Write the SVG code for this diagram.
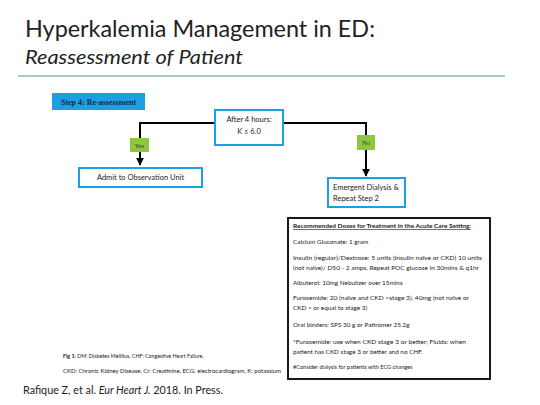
<svg xmlns="http://www.w3.org/2000/svg" width="540" height="405" viewBox="0 0 540 405">
<defs>
<marker id="arr" viewBox="0 0 10 10" refX="9" refY="5" markerWidth="4" markerHeight="4" orient="auto" markerUnits="strokeWidth">
<path d="M0,0 L10,5 L0,10 z" fill="#000"/>
</marker>
<style>
.sans{font-family:Lato,"Open Sans","Liberation Sans",sans-serif;fill:#222}
.serif{font-family:"Liberation Serif","DejaVu Serif",serif}
.box{fill:#fff;stroke:#1ba1e2;stroke-width:2}
.lbl{fill:#8dc63f}
.conn{fill:none;stroke:#000;stroke-width:2}
.t7{font-size:7.5px}
.t6{font-size:6.4px}
.t5{font-size:5.3px}
</style>
</defs>
<rect width="540" height="405" fill="#fff"/>
<g id="title">
<text x="25" y="37" class="sans" font-size="24" textLength="350" lengthAdjust="spacingAndGlyphs" fill="#111">Hyperkalemia Management in ED:</text>
<text x="25" y="64" class="sans" font-size="20" font-style="italic" textLength="218" lengthAdjust="spacingAndGlyphs" fill="#111">Reassessment of Patient</text>
<line x1="18" y1="76" x2="505" y2="76" stroke="#4f9aa3" stroke-width="1.2"/>
</g>
<g id="step4">
<rect x="52" y="93" width="93" height="17" fill="#1ba1e2"/>
<text x="98.5" y="104.5" class="serif" font-size="8" font-weight="bold" fill="#1a2a4a" text-anchor="middle">Step 4: Re-assessment</text>
</g>
<g id="connectors">
<path class="conn" d="M215,123 H140 V165" marker-end="url(#arr)"/>
<path class="conn" d="M283,123 H366 V176" marker-end="url(#arr)"/>
</g>
<g id="after4">
<rect class="box" x="215" y="110" width="68" height="35"/>
<text x="249" y="122" class="sans t7" text-anchor="middle">After 4 hours:</text>
<text x="249" y="134" class="sans t7" text-anchor="middle">K ≤ 6.0</text>
</g>
<g id="yes">
<rect class="lbl" x="130" y="138" width="19" height="14"/>
<text x="139.5" y="147.5" class="serif" font-size="6.5" fill="#333" text-anchor="middle">Yes</text>
</g>
<g id="no">
<rect class="lbl" x="357" y="135" width="18" height="15"/>
<text x="366" y="145" class="serif" font-size="6.5" fill="#333" text-anchor="middle">No</text>
</g>
<g id="admit">
<rect class="box" x="79" y="168" width="123" height="19"/>
<text x="140.5" y="180" class="sans t7" text-anchor="middle">Admit to Observation Unit</text>
</g>
<g id="emergent">
<rect class="box" x="328" y="178" width="77" height="29"/>
<text x="333" y="190" class="sans t7">Emergent Dialysis &amp;</text>
<text x="333" y="201" class="sans t7">Repeat Step 2</text>
</g>
<g id="doses">
<rect x="288" y="218" width="202" height="161" fill="#fff" stroke="#000" stroke-width="1.8"/>
<text x="293" y="228" class="sans t6" font-weight="bold" text-decoration="underline" textLength="178" lengthAdjust="spacingAndGlyphs">Recommended Doses for Treatment in the Acute Care Setting:</text>
<text x="293" y="244" class="sans t6">Calcium Gluconate: 1 gram</text>
<text x="293" y="260" class="sans t6" textLength="189" lengthAdjust="spacingAndGlyphs">Insulin (regular)/Dextrose: 5 units (insulin naïve or CKD) 10 units</text>
<text x="293" y="270" class="sans t6" textLength="186" lengthAdjust="spacingAndGlyphs">(not naïve)/ D50 - 2 amps. Repeat POC glucose in 30mins &amp; q1hr</text>
<text x="293" y="285" class="sans t6">Albuterol: 10mg Nebulizer over 15mins</text>
<text x="293" y="300" class="sans t6" textLength="176" lengthAdjust="spacingAndGlyphs">Furosemide: 20 (naïve and CKD &lt;stage 3), 40mg (not naïve or</text>
<text x="293" y="310" class="sans t6">CKD &gt; or equal to stage 3)</text>
<text x="293" y="327" class="sans t6">Oral binders: SPS 30 g or Patiromer 25.2g</text>
<text x="293" y="344" class="sans t6" textLength="173" lengthAdjust="spacingAndGlyphs">*Furosemide: use when CKD stage 3 or better; Fluids: when</text>
<text x="293" y="354" class="sans t6">patient has CKD stage 3 or better and no CHF.</text>
<text x="293" y="369" class="sans" font-size="5.6">#Consider dialysis for patients with ECG changes</text>
</g>
<g id="footnote">
<text x="63" y="358" class="sans t5"><tspan font-weight="bold">Fig 1:</tspan> DM: Diabetes Mellitus, CHF: Congestive Heart Failure,</text>
<text x="63" y="373" class="sans t5" textLength="218" lengthAdjust="spacingAndGlyphs">CKD: Chronic Kidney Disease, Cr: Creatinine, ECG: electrocardiogram, K: potassium</text>
</g>
<g id="citation">
<text x="23" y="394" class="sans" font-size="11" fill="#222" textLength="200" lengthAdjust="spacingAndGlyphs">Rafique Z, et al. <tspan font-style="italic">Eur Heart J.</tspan> 2018. In Press.</text>
</g>
</svg>
